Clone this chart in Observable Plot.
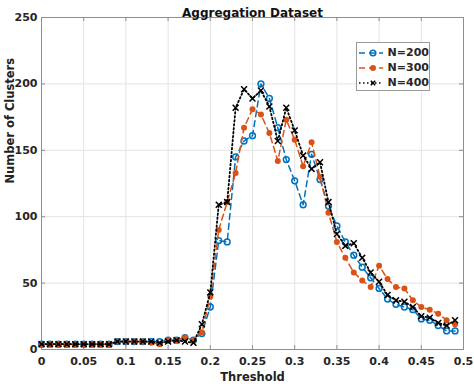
<!DOCTYPE html>
<html>
<head>
<meta charset="utf-8">
<script src="https://cdn.jsdelivr.net/npm/d3@7"></script>
<script src="https://cdn.jsdelivr.net/npm/@observablehq/plot@0.6"></script>
<style>
  html, body { margin: 0; padding: 0; background: #fff; }
  #chart { position: relative; width: 474px; height: 386px; }
  #legend {
    position: absolute; left: 356px; top: 42px; width: 74px; height: 49px;
    border: 1px solid #9a9a9a; background: #fff; box-sizing: border-box;
    font-family: "DejaVu Sans", sans-serif; font-size: 11px; font-weight: bold; color: #262626;
    padding-top: 2px;
  }
  #legend .row { display: flex; align-items: center; height: 15px; }
  #legend svg { display: block; margin-left: 1px; margin-right: 5px; }
</style>
</head>
<body>
<div id="chart"><div id="legend"></div></div>
<script>
// Threshold values (x) and number of clusters for each sample size N
const thresholds = [0.00,0.01,0.02,0.03,0.04,0.05,0.06,0.07,0.08,0.09,
                    0.10,0.11,0.12,0.13,0.14,0.15,0.16,0.17,0.18,0.19,
                    0.20,0.21,0.22,0.23,0.24,0.25,0.26,0.27,0.28,0.29,
                    0.30,0.31,0.32,0.33,0.34,0.35,0.36,0.37,0.38,0.39,
                    0.40,0.41,0.42,0.43,0.44,0.45,0.46,0.47,0.48,0.49];
const n200 = [4,4,4,4,4,4,4,4,4,6, 6,6,6,6,6,7,7,9,7,12,
              32,82,81,145,157,161,200,189,167,143,
              127,109,147,128,108,93,81,71,62,54,
              46,38,34,32,30,23,22,18,14,14];
const n300 = [4,4,4,4,4,4,4,4,4,6, 6,6,6,5,4,7,7,9,7,13,
              40,90,111,133,167,181,177,163,142,173,
              158,138,156,130,103,81,69,58,52,47,
              63,53,47,46,37,32,30,27,22,19];
const n400 = [4,4,4,4,4,4,4,4,4,6, 6,6,6,6,5,6,7,6,5,19,
              43,109,111,182,196,189,195,183,157,182,
              165,146,136,141,111,87,78,80,69,58,
              51,41,37,36,32,25,24,20,18,22];
const seriesNames = ["N=200", "N=300", "N=400"];
const seriesColors = ["#0072BD", "#D95319", "#000000"];
const xTicks = [0,0.05,0.1,0.15,0.2,0.25,0.3,0.35,0.4,0.45,0.5];
const yTicks = [0,50,100,150,200,250];
const title = "Aggregation Dataset";
const xLabel = "Threshold";
const yLabel = "Number of Clusters";

const rows = (vals) => thresholds.map((t, i) => ({t, v: vals[i]}));
const d200 = rows(n200), d300 = rows(n300), d400 = rows(n400);

const chart = Plot.plot({
  width: 474,
  height: 386,
  marginLeft: 41,
  marginRight: 11,
  marginTop: 17,
  marginBottom: 37,
  style: {fontFamily: "DejaVu Sans, sans-serif", fontSize: "11px", fontWeight: "bold", color: "#262626", background: "#fff"},
  x: {domain: [0, 0.5]},
  y: {domain: [0, 250]},
  marks: [
    Plot.gridX(xTicks, {stroke: "#e3e3e3", strokeOpacity: 1}),
    Plot.gridY(yTicks, {stroke: "#e3e3e3", strokeOpacity: 1}),
    Plot.frame({stroke: "#8f8f8f"}),
    // inward ticks on all four sides
    Plot.tickX(xTicks, {x: d => d, insetTop: 328, stroke: "#8f8f8f"}),
    Plot.tickX(xTicks, {x: d => d, insetBottom: 328, stroke: "#8f8f8f"}),
    Plot.tickY(yTicks, {y: d => d, insetRight: 418, stroke: "#8f8f8f"}),
    Plot.tickY(yTicks, {y: d => d, insetLeft: 418, stroke: "#8f8f8f"}),
    Plot.axisX(xTicks, {tickSize: 0, tickPadding: 8, tickFormat: d => String(d), label: null, fill: "#262626"}),
    Plot.axisY(yTicks, {tickSize: 0, tickPadding: 4, label: null, fill: "#262626"}),
    // N=200: dashed blue with open circles
    Plot.line(d200, {x: "t", y: "v", stroke: seriesColors[0], strokeWidth: 1.5, strokeDasharray: "6,4"}),
    Plot.dot(d200, {x: "t", y: "v", r: 2.9, stroke: seriesColors[0], strokeWidth: 1.5, fill: "none"}),
    // N=300: dashed orange with filled circles
    Plot.line(d300, {x: "t", y: "v", stroke: seriesColors[1], strokeWidth: 1.5, strokeDasharray: "6,4"}),
    Plot.dot(d300, {x: "t", y: "v", r: 3, fill: seriesColors[1], stroke: "none"}),
    // N=400: dotted black with crosses
    Plot.line(d400, {x: "t", y: "v", stroke: seriesColors[2], strokeWidth: 1.8, strokeDasharray: "1.5,2.5"}),
    Plot.dot(d400, {x: "t", y: "v", r: 2.8, symbol: "times", stroke: seriesColors[2], strokeWidth: 1.5}),
    Plot.text([title], {frameAnchor: "top", dy: -9, fontSize: 12, fontWeight: "bold", fill: "#111"}),
    Plot.text([xLabel], {frameAnchor: "bottom", dy: 31, fontSize: 11.5, fontWeight: "bold", fill: "#222"}),
    Plot.text([yLabel], {frameAnchor: "left", rotate: -90, dx: -31, fontSize: 11.5, fontWeight: "bold", fill: "#222"})
  ]
});
const host = document.getElementById("chart");
host.insertBefore(chart, host.firstChild);

// legend entries
const legend = document.getElementById("legend");
const markers = [
  '<circle cx="15" cy="6" r="2.8" fill="none" stroke="#0072BD" stroke-width="1.5"/>',
  '<circle cx="15" cy="6" r="3" fill="#D95319"/>',
  '<path d="M12.8,3.8L17.2,8.2M17.2,3.8L12.8,8.2" stroke="#000" stroke-width="1.5"/>'
];
const dashes = ["6,4", "6,4", "1.5,2.5"];
seriesNames.forEach((name, i) => {
  const row = document.createElement("div");
  row.className = "row";
  row.innerHTML = `<svg width="30" height="12"><line x1="1" y1="6" x2="29" y2="6" stroke="${seriesColors[i]}" stroke-width="1.5" stroke-dasharray="${dashes[i]}"/>${markers[i]}</svg><span>${name}</span>`;
  legend.appendChild(row);
});
</script>
</body>
</html>
